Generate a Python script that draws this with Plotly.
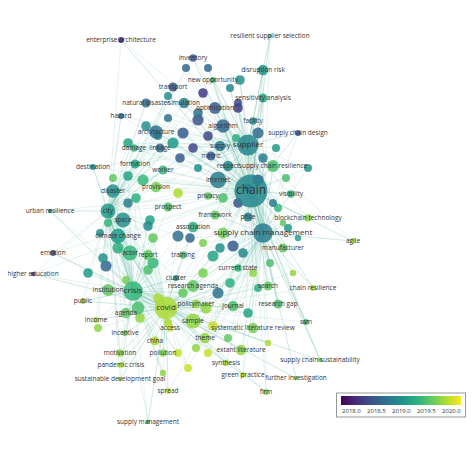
import plotly.graph_objects as go

# VOSviewer-style overlay map: labelled terms (pixel-like layout coordinates)
labels = ["enterprise architecture", "inventory", "resilient supplier selection", "disruption risk",
          "new opportunity", "transport", "natural disaster", "simulation", "optimization",
          "sensitivity analysis", "hazard", "algorithm", "facility", "architecture", "supplier",
          "supply chain design", "damage", "linkage", "metric", "supply", "formation", "respect",
          "supply chain resilience", "destination", "worker", "internet", "chain", "provision",
          "privacy", "visibility", "disaster", "prospect", "blockchain technology", "price",
          "urban resilience", "city", "space", "association", "framework", "supply chain management",
          "agile", "manufacturer", "climate change", "emotion", "actor", "report", "training",
          "current state", "search", "chain resilience", "higher education", "cluster",
          "research agenda", "crisis", "institution", "research gap", "public", "covid",
          "policymaker", "journal", "agenda", "sample", "income", "ssm",
          "systematic literature review", "incentive", "access", "theme", "china",
          "extant literature", "motivation", "pollution", "synthesis", "supply chain sustainability",
          "pandemic crisis", "green practice", "further investigation", "sustainable development goal",
          "spread", "firm", "supply management"]
node_x = [113, 185, 262, 255, 205, 165, 138, 176, 207, 255, 113, 215, 245, 148, 240, 290, 126, 152,
          203, 212, 127, 220, 265, 85, 155, 210, 243, 148, 200, 283, 105, 160, 300, 240, 42, 100,
          115, 185, 207, 255, 345, 275, 110, 45, 122, 140, 175, 230, 260, 305, 25, 168, 185, 125,
          100, 270, 75, 158, 188, 225, 118, 185, 88, 298, 245, 117, 162, 197, 147, 233, 112, 155,
          218, 312, 113, 235, 288, 112, 160, 258, 140]
node_y = [32, 50, 28, 62, 72, 79, 95, 95, 100, 90, 108, 118, 113, 124, 137, 125, 140, 140, 148, 138,
          156, 158, 158, 159, 162, 172, 183, 179, 188, 186, 183, 199, 210, 209, 203, 203, 212, 219,
          207, 225, 233, 240, 228, 245, 245, 247, 247, 260, 278, 280, 266, 270, 278, 283, 282, 296,
          293, 300, 296, 298, 305, 313, 312, 314, 320, 325, 320, 330, 333, 342, 345, 345, 355, 352,
          357, 367, 370, 371, 383, 384, 414]
node_size = [4, 5, 3, 7, 4, 6, 6, 7, 8, 6, 4, 9, 5, 9, 14, 4, 5, 6, 6, 7, 6, 7, 8, 4, 6, 11, 22, 7,
             5, 5, 9, 6, 5, 6, 3, 10, 10, 7, 6, 13, 4, 6, 10, 4, 10, 7, 5, 5, 6, 4, 3, 4, 8, 13, 8,
             6, 4, 15, 6, 7, 7, 10, 4, 4, 7, 4, 5, 7, 6, 7, 5, 5, 4, 3, 4, 4, 3, 3, 4, 4, 3]
node_year = [2018.0, 2018.5, 2019.6, 2019.0, 2019.3, 2018.4, 2018.6, 2018.8, 2018.5, 2019.2, 2018.6,
             2018.6, 2019.0, 2018.7, 2018.9, 2018.4, 2019.4, 2018.6, 2018.5, 2018.8, 2019.2, 2018.9,
             2019.5, 2019.0, 2019.4, 2018.8, 2018.9, 2019.7, 2019.6, 2019.3, 2019.0, 2019.5, 2019.8,
             2018.8, 2019.0, 2019.1, 2019.0, 2019.3, 2019.6, 2018.8, 2020.0, 2019.6, 2019.1, 2018.3,
             2019.4, 2019.6, 2019.5, 2019.4, 2019.6, 2019.9, 2018.2, 2019.0, 2019.6, 2019.4, 2019.6,
             2019.5, 2019.8, 2019.9, 2019.8, 2019.5, 2019.6, 2019.8, 2019.9, 2019.4, 2019.7, 2019.6,
             2020.0, 2019.8, 2019.9, 2019.8, 2019.8, 2019.8, 2019.9, 2019.6, 2020.0, 2020.0, 2019.7,
             2019.8, 2020.0, 2019.7, 2019.5]

# unlabelled terms
extra_x = [178, 195, 222, 232, 190, 160, 138, 175, 200, 228, 250, 268, 120, 135, 172, 190, 215, 230,
           92, 110, 145, 170, 195, 205, 235, 270, 285, 80, 98, 140, 150, 210, 250, 132, 200, 220, 240,
           260, 180, 155, 130, 90, 280, 265, 225, 195, 175, 160, 205, 188, 250, 300, 142, 120,
           185, 150, 230, 200, 165, 128, 105, 95, 215, 240, 255, 278, 290, 170, 145, 118, 222, 198,
           182, 262, 212, 100, 140, 230, 190, 160, 120, 275, 245, 170]
extra_y = [60, 85, 80, 72, 112, 110, 118, 125, 128, 130, 125, 140, 168, 172, 150, 160, 190, 195, 225,
           240, 230, 228, 235, 248, 245, 200, 265, 265, 258, 262, 290, 285, 280, 310, 345, 330, 305,
           335, 360, 365, 300, 320, 220, 195, 238, 265, 285, 315, 318, 340, 172, 160, 212, 195,
           140, 128, 100, 60, 135, 190, 170, 250, 225, 180, 150, 170, 230, 185, 255, 272, 275, 300,
           230, 255, 240, 215, 218, 95, 105, 88, 135, 215, 265, 345]
extra_size = [5, 6, 5, 6, 7, 5, 6, 7, 6, 5, 7, 5, 6, 7, 6, 5, 6, 6, 5, 7, 6, 7, 5, 7, 6, 5, 4, 6, 7,
              6, 6, 7, 5, 6, 5, 5, 6, 4, 5, 4, 8, 5, 5, 5, 7, 6, 6, 5, 6, 5, 7, 5, 6, 6,
              6, 5, 6, 5, 7, 6, 5, 6, 7, 5, 6, 5, 4, 6, 7, 5, 6, 7, 6, 5, 6, 5, 6, 5, 6, 5, 6, 4, 5, 5]
extra_year = [2018.6, 2018.2, 2018.9, 2019.0, 2018.4, 2018.7, 2019.0, 2018.5, 2018.3, 2019.3, 2018.6,
              2019.1, 2019.2, 2019.4, 2018.5, 2019.0, 2019.5, 2018.4, 2019.0, 2019.3, 2019.6, 2018.7,
              2019.7, 2019.2, 2018.9, 2019.4, 2019.8, 2019.1, 2018.6, 2019.5, 2019.9, 2018.7, 2019.3,
              2019.8, 2020.0, 2019.6, 2019.2, 2019.9, 2020.0, 2019.8, 2019.5, 2019.8, 2019.1, 2018.8,
              2018.5, 2019.7, 2019.6, 2019.9, 2020.0, 2019.8, 2018.5, 2019.0, 2019.2, 2018.8,
              2018.3, 2018.9, 2018.2, 2018.6, 2019.1, 2019.3, 2019.6, 2019.0, 2019.7, 2018.4, 2018.8,
              2019.5, 2019.2, 2019.9, 2019.4, 2019.7, 2019.3, 2019.8, 2018.6, 2019.5, 2019.0, 2019.4,
              2018.9, 2018.3, 2018.7, 2019.0, 2019.2, 2019.6, 2019.8, 2020.0]

# hubs and the terms they link to
hub_links = {
    "chain": ["inventory", "disruption risk", "supplier", "internet", "visibility", "blockchain technology",
              "agile", "manufacturer", "supply chain management", "covid", "crisis", "city", "disaster",
              "climate change", "optimization", "algorithm", "supply chain resilience", "urban resilience",
              "research agenda", "systematic literature review", "chain resilience", "supply chain sustainability",
              "firm", "further investigation", "ssm", "architecture", "resilient supplier selection",
              "enterprise architecture", "sensitivity analysis", "supply chain design", "destination",
              "emotion", "higher education", "actor", "research gap", "search", "green practice"],
    "covid": ["crisis", "sample", "research agenda", "policymaker", "journal", "agenda", "income",
              "public", "china", "motivation", "pandemic crisis", "sustainable development goal",
              "spread", "supply management", "theme", "access", "synthesis", "extant literature",
              "institution", "higher education", "emotion", "actor", "supply chain management",
              "firm", "supply chain sustainability", "incentive", "pollution"],
    "supply chain management": ["supplier", "manufacturer", "research gap", "agile", "current state",
                                "sample", "journal", "blockchain technology", "chain resilience",
                                "supply chain sustainability", "ssm", "framework", "price"],
    "crisis": ["city", "climate change", "disaster", "institution", "public", "urban resilience",
               "space", "actor", "report", "cluster", "agenda"],
    "supplier": ["disruption risk", "facility", "sensitivity analysis", "supply chain design",
                 "resilient supplier selection", "optimization", "new opportunity", "supply", "respect"],
    "city": ["natural disaster", "hazard", "damage", "formation", "destination", "space", "urban resilience",
             "architecture", "linkage"],
}

pos = {lab: (node_x[i], node_y[i]) for i, lab in enumerate(labels)}
hubs = list(hub_links)

ex, ey = [], []
for hub, targets in hub_links.items():
    for t in targets:
        ex += [pos[hub][0], pos[t][0], None]
        ey += [pos[hub][1], pos[t][1], None]
# links from every term to its two nearest hubs
pts = list(zip(node_x, node_y)) + list(zip(extra_x, extra_y))
for px, py in pts:
    near = sorted(hubs, key=lambda h: (pos[h][0] - px) ** 2 + (pos[h][1] - py) ** 2)[:3]
    for h in near:
        ex += [px, pos[h][0], None]
        ey += [py, pos[h][1], None]

fig = go.Figure()
fig.add_trace(go.Scatter(x=ex, y=ey, mode="lines", hoverinfo="skip",
                         line=dict(color="rgba(110,190,170,0.3)", width=0.6)))
fig.add_trace(go.Scatter(x=extra_x, y=extra_y, mode="markers", hoverinfo="skip",
                         marker=dict(size=[s * 1.6 for s in extra_size], color=extra_year,
                                     colorscale="Viridis", cmin=2017.8, cmax=2020.2,
                                     opacity=0.85, line=dict(width=0))))
font_sizes = [12 if s >= 20 else 8 if s >= 13 else 6.5 for s in node_size]
fig.add_trace(go.Scatter(
    x=node_x, y=node_y, mode="markers+text", text=labels, textposition="middle center",
    textfont=dict(family="Open Sans", size=font_sizes, color="#333"),
    marker=dict(size=[s * 1.5 for s in node_size], color=node_year, colorscale="Viridis",
                cmin=2017.8, cmax=2020.2, opacity=0.85, line=dict(width=0),
                colorbar=dict(orientation="h", x=0.83, y=0.155, len=0.27, thickness=9,
                              xanchor="center", yanchor="middle",
                              tickvals=[2018.0, 2018.5, 2019.0, 2019.5, 2020.0],
                              ticktext=["2018.0", "2018.5", "2019.0", "2019.5", "2020.0"],
                              tickfont=dict(size=6, color="#333"), ticks="",
                              outlinewidth=0, bgcolor="white", bordercolor="#999", borderwidth=1,
                              xpad=4, ypad=3))))

fig.update_layout(width=474, height=470, margin=dict(l=0, r=0, t=0, b=0),
                  plot_bgcolor="white", paper_bgcolor="white", showlegend=False,
                  xaxis=dict(range=[0, 474], visible=False),
                  yaxis=dict(range=[470, 0], visible=False))
fig.write_html("out.html")
